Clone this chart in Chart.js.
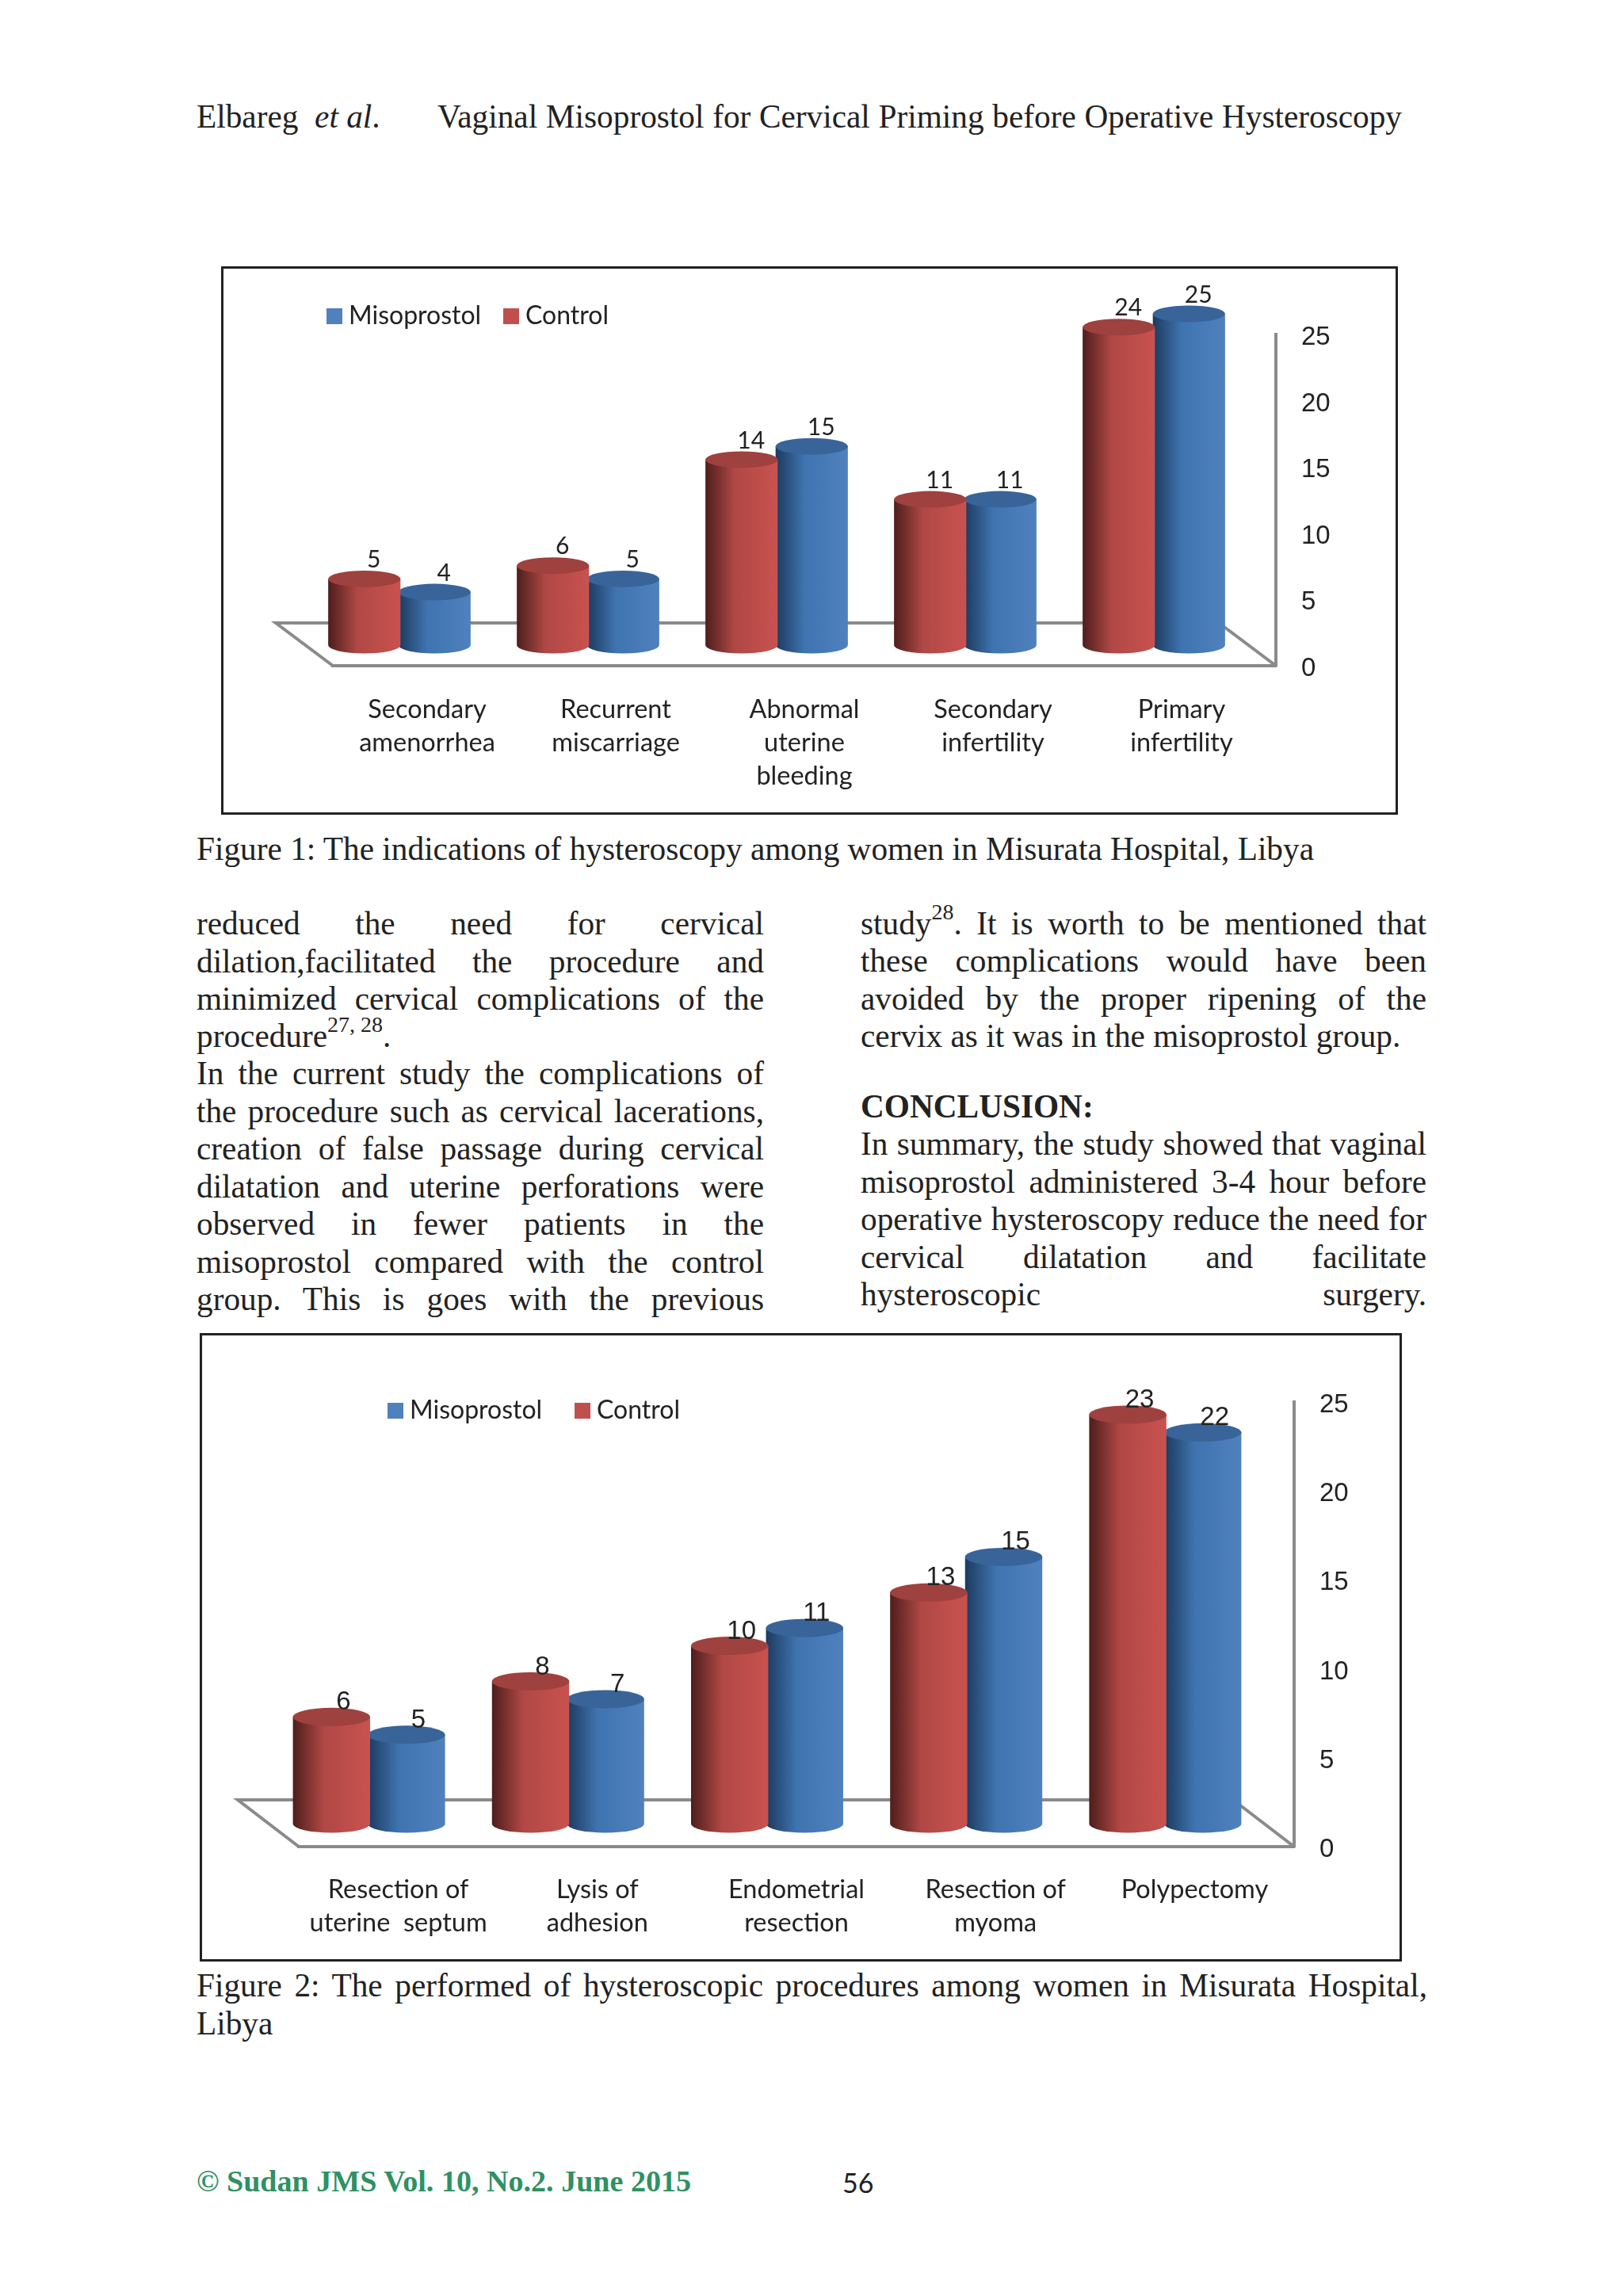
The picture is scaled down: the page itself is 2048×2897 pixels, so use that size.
<!DOCTYPE html>
<html>
<head>
<meta charset="utf-8">
<script src="https://cdn.jsdelivr.net/npm/chart.js@4"></script>
<style>
  html, body { margin: 0; padding: 0; background: #fff; }
  #page { position: relative; width: 2048px; height: 2897px; overflow: hidden; }
  .frame { position: absolute; box-sizing: content-box; outline: 3px solid #222; outline-offset: -1px; }
  canvas { position: absolute; left: 0; top: 0; }
  .ln { position: absolute; font-family: "Liberation Serif", serif; font-size: 41.3px; line-height: 1.2; color: #222; white-space: nowrap; }
  .ln.just { white-space: normal; text-align: justify; text-align-last: justify; }
  .ln sup { font-size: 28px; line-height: 0; vertical-align: 19px; }
</style>
</head>
<body>
<div id="page">
  <div class="frame" style="left:281px;top:338px;width:1481px;height:688px"><canvas id="fig1"></canvas></div>
  <div class="frame" style="left:254px;top:1684px;width:1513px;height:789px"><canvas id="fig2"></canvas></div>
</div>
<script>
// figure 1 - categories run right to left, as in the original sheet
const indicationCats = [['Primary', 'infertility'], ['Secondary', 'infertility'], ['Abnormal', 'uterine', 'bleeding'], ['Recurrent', 'miscarriage'], ['Secondary', 'amenorrhea']];
const indicationMiso = [25, 11, 15, 5, 4];
const indicationCtrl = [24, 11, 14, 6, 5];

// figure 2
const procedureCats = ['Polypectomy', ['Resection of', 'myoma'], ['Endometrial', 'resection'], ['Lysis of', 'adhesion'], ['Resection of', 'uterine  septum']];
const procedureMiso = [22, 15, 11, 7, 5];
const procedureCtrl = [23, 13, 10, 8, 6];

const yTicks = [0, 5, 10, 15, 20, 25];

const BLUE = { solid: '#4f81bd', top: '#386499', stops: ['#1d3a5e', '#3f74b0', '#4f81bd'] };
const RED = { solid: '#c0504d', top: '#9f413e', stops: ['#4d1e1c', '#b04845', '#c9524f'] };

// page text: x, baseline, justify width, html
const textLines = [
  [248, 162, 0, 'Elbareg&nbsp; <i>et al</i>.'],
  [552, 162, 1217, 'Vaginal Misoprostol for Cervical Priming before Operative Hysteroscopy'],
  [248, 1086, 0, 'Figure 1: The indications of hysteroscopy among women in Misurata Hospital, Libya'],
  [248, 1180, 716, 'reduced the need for cervical'],
  [248, 1228, 716, 'dilation,facilitated the procedure and'],
  [248, 1275, 716, 'minimized cervical complications of the'],
  [248, 1322, 0, 'procedure<sup>27, 28</sup>.'],
  [248, 1369, 716, 'In the current study the complications of'],
  [248, 1417, 716, 'the procedure such as cervical lacerations,'],
  [248, 1464, 716, 'creation of false passage during cervical'],
  [248, 1512, 716, 'dilatation and uterine perforations were'],
  [248, 1559, 716, 'observed in fewer patients in the'],
  [248, 1607, 716, 'misoprostol compared with the control'],
  [248, 1654, 716, 'group. This is goes with the previous'],
  [1086, 1180, 714, 'study<sup>28</sup>. It is worth to be mentioned that'],
  [1086, 1227, 714, 'these complications would have been'],
  [1086, 1275, 714, 'avoided by the proper ripening of the'],
  [1086, 1322, 0, 'cervix as it was in the misoprostol group.'],
  [1086, 1411, 0, '<b>CONCLUSION:</b>'],
  [1086, 1458, 714, 'In summary, the study showed that vaginal'],
  [1086, 1506, 714, 'misoprostol administered 3-4 hour before'],
  [1086, 1553, 714, 'operative hysteroscopy reduce the need for'],
  [1086, 1601, 714, 'cervical dilatation and facilitate'],
  [1086, 1648, 714, 'hysteroscopic surgery.'],
  [248, 2520, 1553, 'Figure 2: The performed of hysteroscopic procedures among women in Misurata Hospital,'],
  [248, 2568, 0, 'Libya']
];

const page = document.getElementById('page');
textLines.forEach(function (l) {
  const d = document.createElement('div');
  d.className = 'ln' + (l[2] ? ' just' : '');
  d.style.left = l[0] + 'px';
  d.style.top = (l[1] - 0.9375 * 41.3) + 'px';
  if (l[2]) d.style.width = l[2] + 'px';
  d.innerHTML = l[3];
  page.appendChild(d);
});

const foot = document.createElement('div');
foot.className = 'ln';
foot.style.cssText = 'left:248px;top:2730px;font-size:38.1px;font-weight:bold;color:#2f9163';
foot.textContent = '\u00a9 Sudan JMS Vol. 10, No.2. June 2015';
page.appendChild(foot);
const num = document.createElement('div');
num.className = 'ln';
num.style.cssText = 'left:1063px;top:2734px;font-family:Lato;font-size:34px;color:#222';
num.textContent = '56';
page.appendChild(num);

// cylinders stand back from the front of the floor, so they are shifted from the scale by (dx, dy)
const cylinders = {
  id: 'cylinders',
  beforeDatasetsDraw(chart, args, o) {
    const c = chart.ctx, a = chart.chartArea;
    c.save();
    c.strokeStyle = '#8a8a8a';
    c.lineWidth = 4;
    c.beginPath();
    c.moveTo(a.left, a.bottom);
    c.lineTo(a.left + o.floorX, a.bottom + o.floorY);
    c.lineTo(a.right + o.floorX, a.bottom + o.floorY);
    c.lineTo(a.right, a.bottom);
    c.stroke();
    c.restore();
  },
  afterDatasetsDraw(chart, args, o) {
    const c = chart.ctx;
    // dataset 0 is Control (left bar); Misoprostol goes down first so the red overlaps it
    const tones = [RED, BLUE];
    [1, 0].forEach(function (i) {
      chart.getDatasetMeta(i).data.forEach(function (el) {
        const x = el.x + o.dx, y = el.y + o.dy, base = el.base + o.dy, r = el.width / 2;
        const g = c.createLinearGradient(x - r, 0, x + r, 0);
        g.addColorStop(0, tones[i].stops[0]);
        g.addColorStop(0.4, tones[i].stops[1]);
        g.addColorStop(1, tones[i].stops[2]);
        c.fillStyle = g;
        c.beginPath();
        c.moveTo(x - r, y);
        c.lineTo(x + r, y);
        c.lineTo(x + r, base);
        c.ellipse(x, base, r, o.ry, 0, 0, Math.PI);
        c.closePath();
        c.fill();
        c.fillStyle = tones[i].top;
        c.beginPath();
        c.ellipse(x, y, r, o.ry, 0, 0, Math.PI * 2);
        c.fill();
      });
    });
    // value labels go last so a neighbour's cap never covers them
    c.fillStyle = '#222';
    c.font = o.valueFont;
    c.textAlign = 'center';
    c.textBaseline = 'middle';
    chart.data.datasets.forEach(function (ds, i) {
      chart.getDatasetMeta(i).data.forEach(function (el, j) {
        c.fillText(ds.data[j], el.x + o.dx + o.valX, el.y + o.dy + o.valY);
      });
    });
    // key: Misoprostol first, as printed
    c.font = '32px Lato';
    c.textAlign = 'left';
    [1, 0].forEach(function (i, n) {
      const kx = n ? o.keyX2 : o.keyX1;
      c.fillStyle = tones[i].solid;
      c.fillRect(kx, o.keyY - 10, 20, 20);
      c.fillStyle = '#222';
      c.fillText(chart.data.datasets[i].label, kx + 28, o.keyY);
    });
  }
};

function makeChart(id, w, h, cats, miso, ctrl, o) {
  const el = document.getElementById(id);
  el.width = w;
  el.height = h;
  return new Chart(el, {
    type: 'bar',
    data: {
      labels: cats,
      datasets: [
        { label: 'Control', data: ctrl, backgroundColor: 'transparent', barPercentage: 1.03, categoryPercentage: o.catPct },
        { label: 'Misoprostol', data: miso, backgroundColor: 'transparent', barPercentage: 1.03, categoryPercentage: o.catPct }
      ]
    },
    options: {
      responsive: false,
      devicePixelRatio: 1,
      animation: false,
      layout: { padding: { left: o.left, top: o.top, right: 0, bottom: 0 } },
      plugins: {
        legend: { display: false },
        tooltip: { enabled: false },
        cylinders: o
      },
      scales: {
        x: {
          reverse: true,
          grid: { display: false, drawTicks: false },
          border: { color: '#8a8a8a', width: 4 },
          ticks: { color: '#222', padding: o.xPad, maxRotation: 0, autoSkip: false, font: { family: 'Lato', size: 32.5, lineHeight: 1.29 } },
          afterFit(s) { s.height = o.xHeight; }
        },
        y: {
          position: 'right',
          min: 0,
          max: 25,
          grid: { display: false, drawTicks: false },
          border: { color: '#8a8a8a', width: 4 },
          afterBuildTicks(s) { s.ticks = yTicks.map(function (v) { return { value: v }; }); },
          ticks: { color: '#222', padding: o.yPad, labelOffset: 4, font: { family: 'Liberation Sans', size: 33 } },
          afterFit(s) { s.width = o.yWidth; }
        }
      }
    },
    plugins: [cylinders]
  });
}

makeChart('fig1', 1481, 688, indicationCats, indicationMiso, indicationCtrl, {
  left: 139, top: 84, xHeight: 186, yWidth: 152, xPad: 35, yPad: 32, catPct: 0.744,
  dx: -35, dy: -26, ry: 10.5, floorX: -72, floorY: -54,
  valueFont: '30px Lato', valX: 12, valY: -24, keyY: 61, keyX1: 131, keyX2: 354
});
makeChart('fig2', 1513, 789, procedureCats, procedureMiso, procedureCtrl, {
  left: 123, top: 85, xHeight: 143, yWidth: 134, xPad: 34, yPad: 32, catPct: 0.753,
  dx: -37, dy: -29, ry: 11.5, floorX: -77, floorY: -59,
  valueFont: '33px "Liberation Sans"', valX: 15, valY: -18, keyY: 96, keyX1: 235, keyX2: 471
});
</script>
</body>
</html>
